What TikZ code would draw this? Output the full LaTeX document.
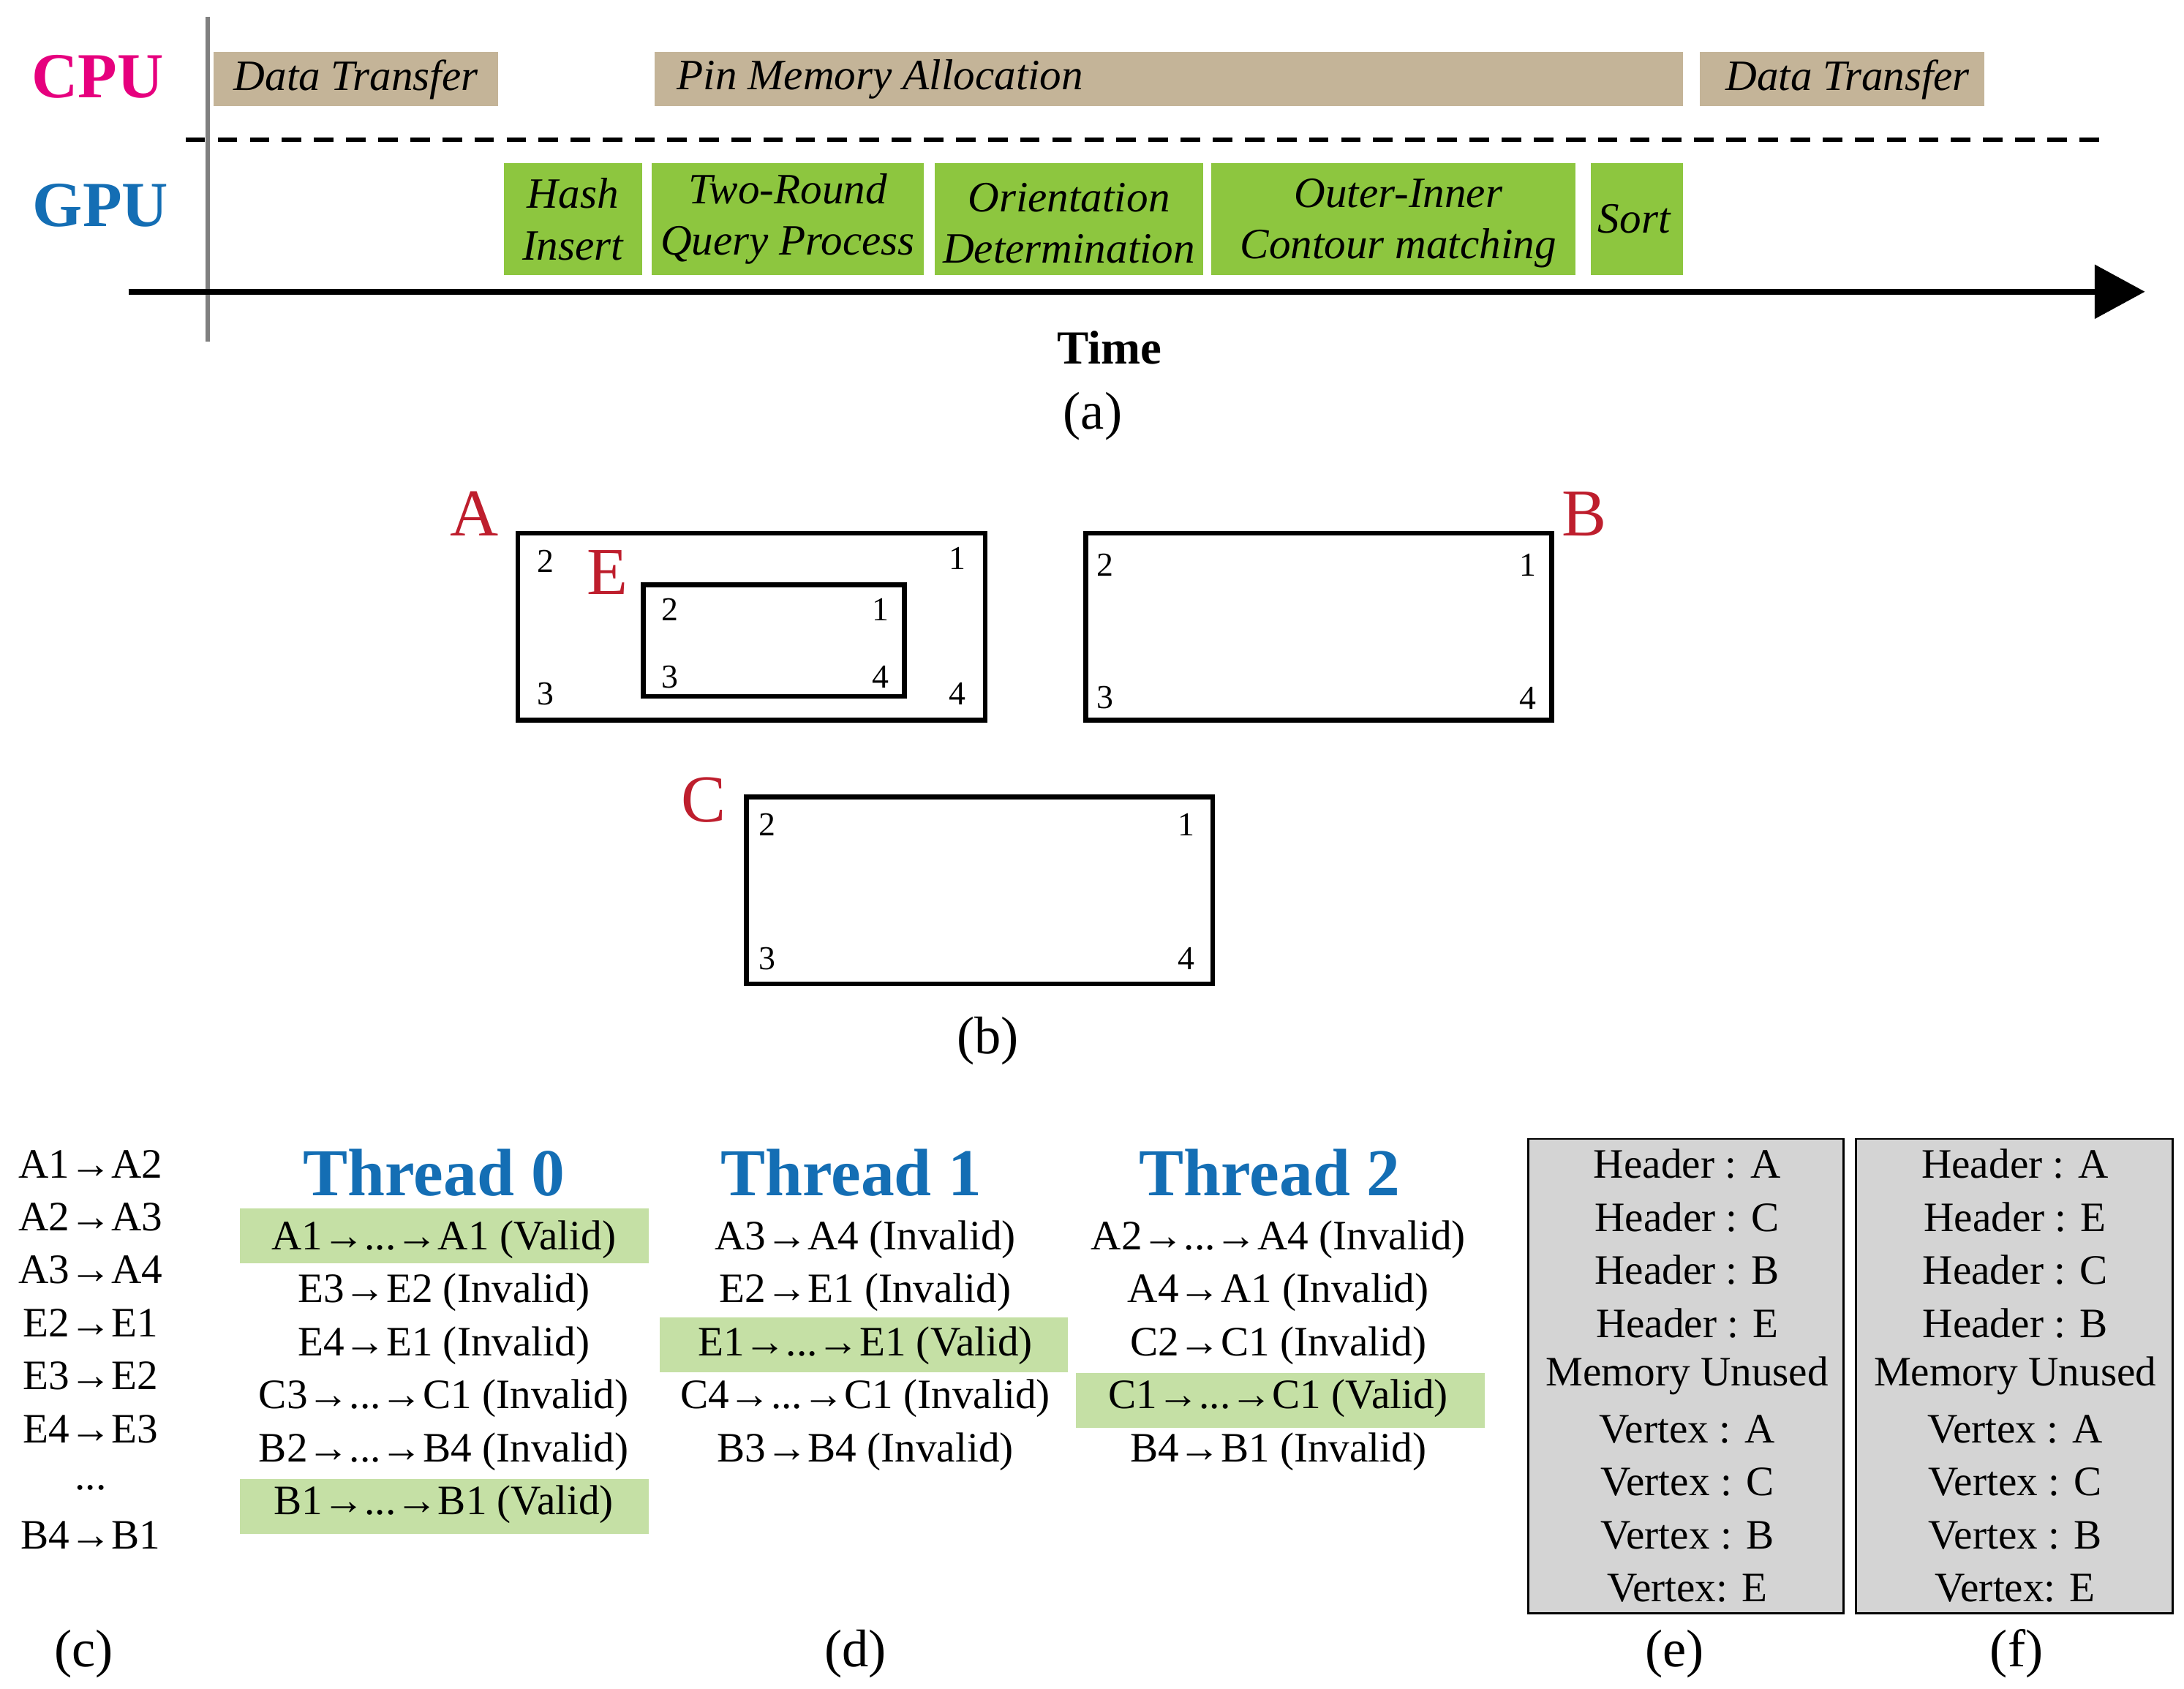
\documentclass[tikz,border=0pt]{standalone}
\usepackage{fontspec}
\setmainfont{Liberation Serif}
\usetikzlibrary{arrows.meta}
\definecolor{tan}{RGB}{196,180,152}
\definecolor{grn}{RGB}{141,198,63}
\definecolor{lgrn}{RGB}{197,224,165}
\definecolor{thr}{RGB}{20,110,180}
\definecolor{mag}{RGB}{230,0,126}
\definecolor{lbl}{RGB}{190,30,45}
\definecolor{gbox}{RGB}{212,212,212}
\newcommand\mydots{...}
\tikzset{
 fs/.style={font=\fontsize{#1}{#1}\selectfont},
 fsb/.style={font=\fontsize{#1}{#1}\selectfont\bfseries},
 txt/.style={fs=30,inner sep=0pt,anchor=center},
 it/.style={font=\fontsize{31}{37}\selectfont\itshape,inner sep=0pt,align=center},
 num/.style={fs=24,inner sep=0pt},
 big/.style={fs=48,text=lbl,inner sep=0pt},
 rect/.style={line width=3.5pt},
 subcap/.style={fs=38,inner sep=0pt},
 thread/.style={fsb=48,text=thr,inner sep=0pt},
}
\begin{document}
\begin{tikzpicture}[x=1pt,y=-1pt]
\useasboundingbox (0,0) rectangle (1565,1210);
% (a)
\draw[gray,line width=3pt] (149,12) -- (149,245);
\node[fsb=46,text=mag] (cpu) at (70,55) {CPU};
\node[fsb=46,text=thr] (gpu) at (72,147) {GPU};
\draw[line width=3pt,dash pattern=on 14pt off 9pt] (133,100) -- (1507,100);
\coordinate (t0) at (92,209); \coordinate (t1) at (1537,209);
\draw[line width=4pt,-{Triangle[length=36pt,width=38pt]}] (t0) -- (t1);
\fill[tan] (153,37) rectangle (357,76);
\node[it] (dt1) at (255,57) {Data Transfer};
\fill[tan] (469,37) rectangle (1206,76);
\node[it,anchor=west] (pma) at (485,57) {Pin Memory Allocation};
\fill[tan] (1218,37) rectangle (1422,76);
\node[it] (dt2) at (1324,57) {Data Transfer};
\fill[grn] (361,117) rectangle (460,197);
\node[it] (hi) at (410.5,157) {Hash\\Insert};
\fill[grn] (467,117) rectangle (662,197);
\node[it] (tr) at (564.5,157) {Two-Round\\Query Process};
\fill[grn] (670,117) rectangle (862,197);
\node[it] (od) at (766,160) {Orientation\\Determination};
\fill[grn] (868,117) rectangle (1129,197);
\node[it] (oi) at (1002,160) {Outer-Inner\\Contour matching};
\fill[grn] (1140,117) rectangle (1206,197);
\node[it] (so) at (1171,157) {Sort};
\node[fsb=34,inner sep=0pt] (time) at (795,249) {Time};
\node[subcap] (ca) at (783,298) {(a)};
% (b)
\draw[rect] (371,382) rectangle (706,516);
\node[num] at (391,402) {2}; \node[num] at (686,400) {1};
\node[num] at (391,497) {3}; \node[num] at (686,497) {4};
\node[big] (lA) at (340,368) {A};
\node[big] (lE) at (435,410) {E};
\draw[rect] (461,419) rectangle (648,499);
\node[num] at (480,437) {2}; \node[num] at (631,437) {1};
\node[num] at (480,485) {3}; \node[num] at (631,485) {4};
\draw[rect] (778,382) rectangle (1112,516);
\node[num] at (792,405) {2}; \node[num] at (1095,405) {1};
\node[num] at (792,500) {3}; \node[num] at (1095,500) {4};
\node[big] (lB) at (1135,368) {B};
\draw[rect] (535,571) rectangle (869,705);
\node[num] at (550,591) {2}; \node[num] at (850,591) {1};
\node[num] at (550,687) {3}; \node[num] at (850,687) {4};
\node[big] (lC) at (504,573) {C};
\node[subcap] (cb) at (708,746) {(b)};
% (c)
\foreach \t [count=\i from 0] in {A1→A2,A2→A3,A3→A4,E2→E1,E3→E2,E4→E3}
  \node[txt] at (65,834+38*\i) {\t};
\node[txt] at (65,1066) {\mydots};
\node[txt] at (65,1100) {B4→B1};
% (d)
\node[thread] (th0) at (311,840) {Thread 0};
\node[thread] (th1) at (610,840) {Thread 1};
\node[thread] (th2) at (910,840) {Thread 2};
\fill[lgrn] (172,866) rectangle (465,905);
\fill[lgrn] (172,1060) rectangle (465,1099);
\fill[lgrn] (473,944) rectangle (765,983);
\fill[lgrn] (771,984) rectangle (1064,1023);
\foreach \t [count=\i from 0] in {{A1→\mydots→A1 (Valid)},{E3→E2 (Invalid)},{E4→E1 (Invalid)},{C3→\mydots→C1 (Invalid)},{B2→\mydots→B4 (Invalid)},{B1→\mydots→B1 (Valid)}}
  \node[txt] at (318,888+38*\i) {\t};
\foreach \t [count=\i from 0] in {{A3→A4 (Invalid)},{E2→E1 (Invalid)},{E1→\mydots→E1 (Valid)},{C4→\mydots→C1 (Invalid)},{B3→B4 (Invalid)}}
  \node[txt] at (620,888+38*\i) {\t};
\foreach \t [count=\i from 0] in {{A2→\mydots→A4 (Invalid)},{A4→A1 (Invalid)},{C2→C1 (Invalid)},{C1→\mydots→C1 (Valid)},{B4→B1 (Invalid)}}
  \node[txt] at (916,888+38*\i) {\t};
% (e),(f)
\draw[fill=gbox,line width=1.5pt] (1095,816) rectangle (1321,1156);
\draw[fill=gbox,line width=1.5pt] (1330,816) rectangle (1557,1156);
\foreach \t [count=\i from 0] in {Header : A,Header : C,Header : B,Header : E,Memory Unused,Vertex : A,Vertex : C,Vertex : B,Vertex: E}
  \node[txt] at (1209,834+38*\i) {\t};
\foreach \t [count=\i from 0] in {Header : A,Header : E,Header : C,Header : B,Memory Unused,Vertex : A,Vertex : C,Vertex : B,Vertex: E}
  \node[txt] at (1444,834+38*\i) {\t};
\node[subcap] at (60,1185) {(c)};
\node[subcap] at (613,1185) {(d)};
\node[subcap] at (1200,1185) {(e)};
\node[subcap] at (1445,1185) {(f)};
\end{tikzpicture}
\end{document}
